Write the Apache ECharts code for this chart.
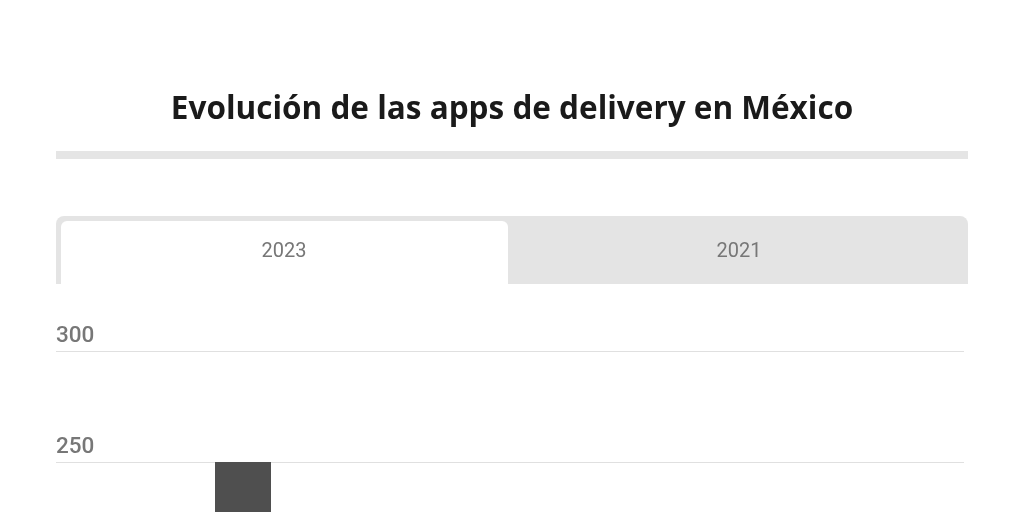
<!DOCTYPE html>
<html><head><meta charset="utf-8">
<script src="https://cdn.jsdelivr.net/npm/echarts@6/dist/echarts.min.js"></script>
<style>html,body{margin:0;padding:0;background:#fff;overflow:hidden;}#c{width:1024px;height:1100px;}</style>
</head><body><div id="c"></div>
<script>
const titleText = "Evolución de las apps de delivery en México";
const tabLabels = ["2023", "2021"];
const categories = ["Rappi"];
const values2023 = [250];
const yTicks = [0, 50, 100, 150, 200, 250, 300];

const chart = echarts.init(document.getElementById('c'), null, {renderer: 'canvas'});
const yMin = yTicks[0], yMax = yTicks[yTicks.length - 1], yStep = yTicks[1] - yTicks[0];

chart.setOption({
  animation: false,
  backgroundColor: '#fff',
  graphic: [
    {type: 'text', x: 512, y: 110, style: {text: titleText, font: 'bold 31.5px "Open Sans"', fill: '#1a1a1a', align: 'center', verticalAlign: 'middle'}},
    {type: 'rect', shape: {x: 56, y: 151, width: 912, height: 8}, style: {fill: '#e5e5e5'}},
    {type: 'rect', shape: {x: 56, y: 216, width: 912, height: 68, r: [8, 8, 0, 0]}, style: {fill: '#e4e4e4'}},
    {type: 'rect', shape: {x: 61, y: 221, width: 447, height: 63, r: [6, 6, 0, 0]}, style: {fill: '#ffffff'}},
    {type: 'text', x: 284, y: 252, style: {text: tabLabels[0], font: '20px Roboto', fill: '#777', align: 'center', verticalAlign: 'middle'}},
    {type: 'text', x: 739, y: 252, style: {text: tabLabels[1], font: '20px Roboto', fill: '#777', align: 'center', verticalAlign: 'middle'}}
  ],
  grid: [
    {left: 56, width: 908, top: 351, height: 666, outerBoundsMode: 'none', containLabel: false},
    {left: 187, width: 112, top: 351, height: 666, outerBoundsMode: 'none', containLabel: false}
  ],
  xAxis: [
    {gridIndex: 0, type: 'category', data: categories, show: false},
    {gridIndex: 1, type: 'category', data: categories, show: false}
  ],
  yAxis: [
    {gridIndex: 0, type: 'value', min: yMin, max: yMax, interval: yStep,
     axisLine: {show: false}, axisTick: {show: false},
     splitLine: {lineStyle: {color: '#e0e0e0', width: 1}},
     axisLabel: {inside: true, margin: 0, align: 'left', verticalAlign: 'bottom',
       padding: [0, 0, 3, 0], fontFamily: 'Roboto', fontWeight: 500, fontSize: 22.5, color: '#777'}},
    {gridIndex: 1, type: 'value', min: yMin, max: yMax, interval: yStep, show: false,
     splitLine: {show: false}}
  ],
  series: [
    {type: 'bar', xAxisIndex: 1, yAxisIndex: 1, data: values2023, barWidth: 56,
     itemStyle: {color: '#4f4f4f'}}
  ]
});
</script></body></html>
